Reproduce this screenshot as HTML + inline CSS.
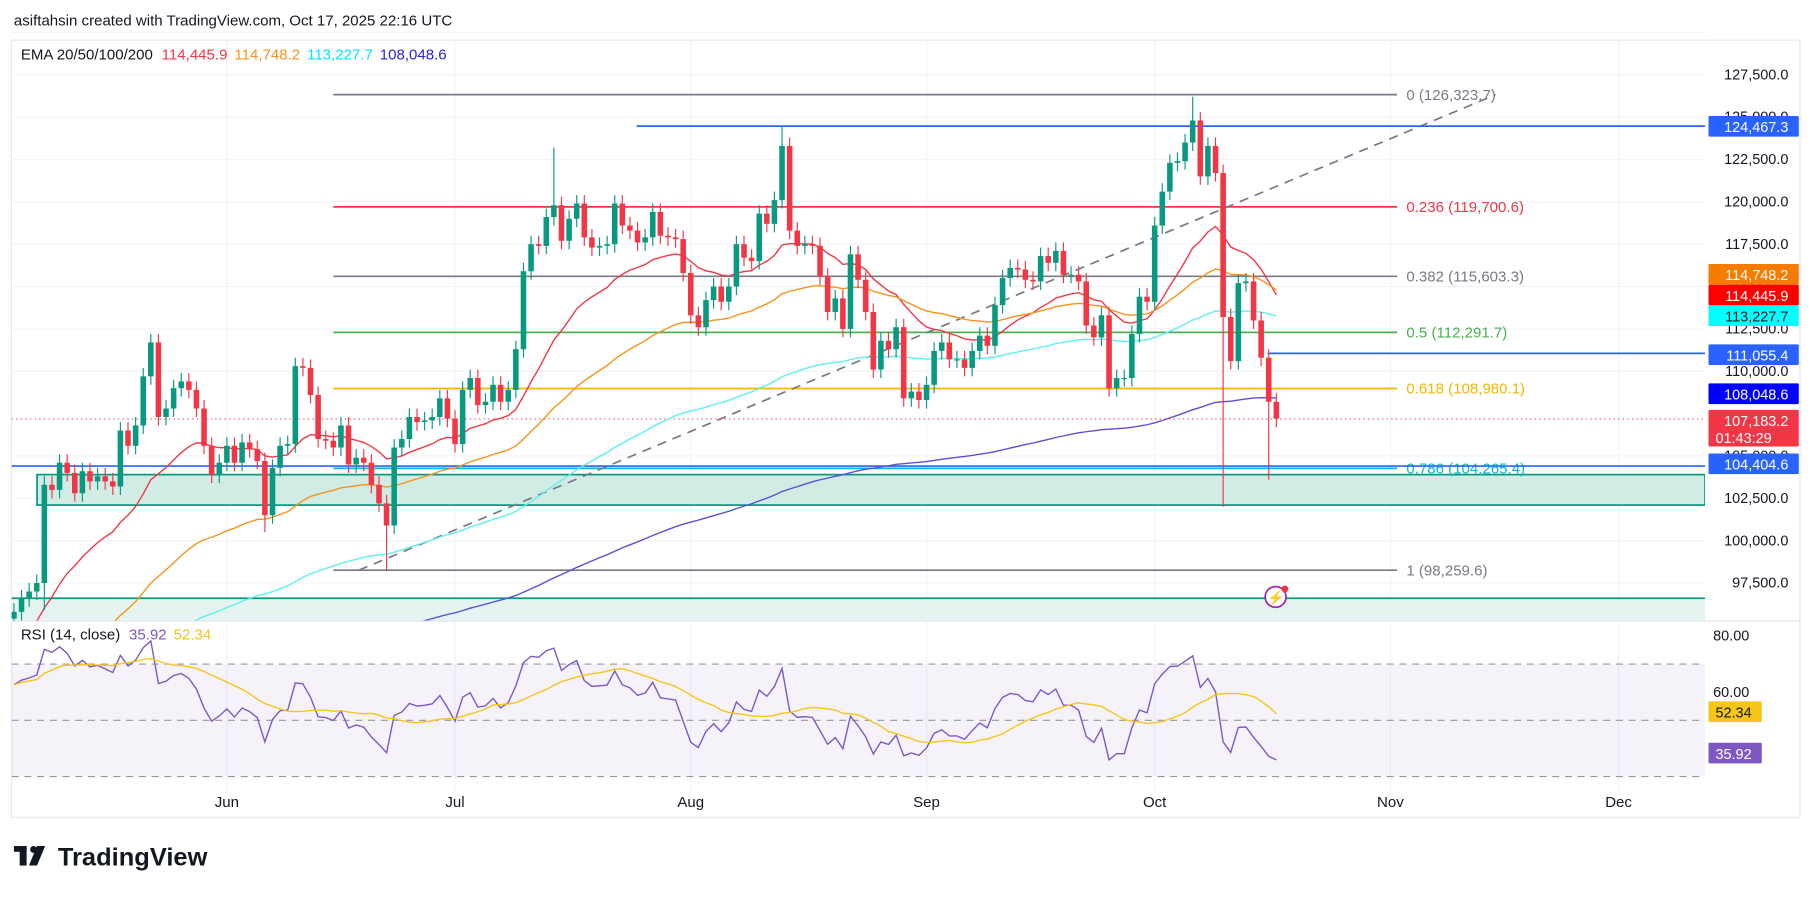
<!DOCTYPE html>
<html><head><meta charset="utf-8"><style>
html,body{margin:0;padding:0;background:#fff;width:1815px;height:900px;overflow:hidden}
svg{display:block;font-family:"Liberation Sans",sans-serif}
</style></head><body>
<svg id="chart" width="1815" height="900" viewBox="0 0 1568 784" preserveAspectRatio="none" xmlns="http://www.w3.org/2000/svg">
<defs>
<clipPath id="mainClip"><rect x="10" y="35" width="1463" height="506"/></clipPath>
<clipPath id="rsiClip"><rect x="10" y="541" width="1463" height="150"/></clipPath>
</defs>
<text x="12" y="22" font-size="13" fill="#131722">asiftahsin created with TradingView.com, Oct 17, 2025 22:16 UTC</text>
<rect x="10" y="35" width="1545" height="677" fill="none" stroke="#e6e8ee"/>
<g id="grid"></g>
<g id="mainPane" clip-path="url(#mainClip)"></g>
<g id="rsiPane" clip-path="url(#rsiClip)"></g>
<line x1="10" y1="541" x2="1555" y2="541" stroke="#e0e3eb"/>
<g id="axis"></g>
<text x="18" y="52" font-size="13"><tspan fill="#131722">EMA 20/50/100/200 </tspan><tspan fill="#f23645" dx="4">114,445.9</tspan><tspan fill="#f7931a" dx="6">114,748.2</tspan><tspan fill="#00e5ff" dx="6">113,227.7</tspan><tspan fill="#2a1fd6" dx="6">108,048.6</tspan></text>
<text x="18" y="557" font-size="13"><tspan fill="#131722">RSI (14, close) </tspan><tspan fill="#7e57c2" dx="4">35.92</tspan><tspan fill="#f5c518" dx="6">52.34</tspan></text>
<g>
<rect x="12" y="737" width="11" height="5" fill="#131722"/><rect x="17" y="737" width="6" height="17" fill="#131722"/><circle cx="29" cy="740" r="3" fill="#131722"/><polygon points="32,737 39,737 32,754 25,754" fill="#131722"/>
<text x="50" y="754" font-size="22" font-weight="bold" fill="#131722">TradingView</text>
</g>
</svg>
<script>
// daily closes (thousands USD), starting May 4 2025
const closes = [95.8,96.6,97.0,97.5,103.3,103,104.6,104,102.8,104.1,103.5,103.8,103.5,103.2,106.5,105.6,106.8,109.7,111.7,107.3,107.8,109,109.4,108.9,107.8,105.6,103.9,104.6,
105.6,104.6,105.8,105.4,104.7,101.5,104.3,105.6,105.7,110.3,110.2,108.6,106,105.9,105.5,106.8,104.5,104.9,104.6,103.3,102.2,100.9,105.5,106,107.3,107,107.1,107.3,108.4,107.2,
105.7,108.9,109.6,108,108.2,109.2,108.2,108.9,111.3,115.9,117.5,117.4,119.1,119.8,117.7,119,119.9,117.9,117.3,117.4,117.5,119.9,118.6,118.3,117.6,117.9,119.4,118,117.9,117.8,115.8,
113.3,112.6,114.2,115,114.1,115,117.5,116.7,116.5,119.3,118.7,120.1,123.3,118.3,117.4,117.5,117.4,115.6,113.5,114.3,112.5,116.9,115.4,113.5,110.1,111.8,111.3,112.6,108.4,108.8,108.3,
109.2,111.2,111.7,110.7,110.7,110.2,111.2,112.1,111.5,113.9,115.5,116.1,116,115.4,115.3,116.8,116.4,117.1,115.7,115.7,115.3,112.7,112,113.3,109,109.6,109.6,112.2,114.4,114.1,
118.6,120.6,122.3,122.4,123.5,124.8,121.5,123.3,121.7,113.2,110.6,115.2,115.3,113,110.8,108.2,107.2];
const extremeIdx = [4,33,49,71,101,155,159,165];
const extremeVal = [95.9,100.5,98.2,123.2,124.5,126.2,102.0,103.6];
const emaPeriods = [20,50,100,200];
const emaSeeds = [94.5,90,89,88];
const emaColors = ['#f23645','#f7931a','#5ff0f0','#5b4fd6'];
const fibLevels = ['0','0.236','0.382','0.5','0.618','0.786','1'];
const fibPrices = [126.3237,119.7006,115.6033,112.2917,108.9801,104.2654,98.2596];
const fibColors = ['#787b86','#f23645','#787b86','#4caf50','#f7b500','#00bcd4','#787b86'];
const priceTicks = [130,127.5,125,122.5,120,117.5,115,112.5,110,105,102.5,100,97.5];
const monthLabels = ['Jun','Jul','Aug','Sep','Oct','Nov','Dec'];
const monthIdx = [28,58,89,120,150,181,211];
const rsiTicks = [80,60,40];

const NS='http://www.w3.org/2000/svg';
const X=i=>196+(i-28)*6.57;
const Y=p=>471-(p-100)*14.76;
const RY=r=>603-(r-60)*2.45;
const fmt=p=>(p*1000).toLocaleString('en-US',{minimumFractionDigits:1,maximumFractionDigits:1});
function mk(parent,tag,attrs){const e=document.createElementNS(NS,tag);for(const k in attrs)e.setAttribute(k,attrs[k]);parent.appendChild(e);return e;}
const grid=document.getElementById('grid'),main=document.getElementById('mainPane'),rsiG=document.getElementById('rsiPane'),axis=document.getElementById('axis');

priceTicks.forEach(p=>{const l=mk(grid,'line',{x1:10,x2:1473,y1:Y(p),y2:Y(p),stroke:'#f0f3fa'});

});
monthIdx.forEach((m,k)=>{const l=mk(grid,'line',{x1:X(m),x2:X(m),y1:35,y2:690,stroke:'#f0f3fa'});


const t=mk(axis,'text',{x:X(m),y:703,'font-size':13,'text-anchor':'middle',fill:'#131722'});t.textContent=monthLabels[k];

});

const z=mk(main,'rect',{x:32,y:Y(103.9),width:1441,height:Y(102.1)-Y(103.9),fill:'#d1ebe5',stroke:'#089981','stroke-width':1.5});


const z2=mk(main,'rect',{x:10,y:Y(96.6),width:1463,height:40,fill:'#e6f4f1'});


const zl=mk(main,'line',{x1:10,x2:1473,y1:Y(96.6),y2:Y(96.6),stroke:'#089981','stroke-width':1.5});



fibPrices.forEach((p,k)=>{const l=mk(main,'line',{x1:288,x2:1207,y1:Y(p),y2:Y(p),stroke:fibColors[k],'stroke-width':1.5});


const t=mk(main,'text',{x:1215,y:Y(p)+4.5,'font-size':13,fill:fibColors[k]});t.textContent=fibLevels[k]+' ('+fmt(p)+')';

});
const tl=mk(main,'line',{x1:310,y1:Y(98.26),x2:1292,y2:Y(126.32),stroke:'#787b86','stroke-width':1.5,'stroke-dasharray':'8 6'});


[[550,124.4673],[1095,111.0554],[10,104.4046]].forEach(a=>{const l=mk(main,'line',{x1:a[0],x2:1473,y1:Y(a[1]),y2:Y(a[1]),stroke:'#2962ff','stroke-width':1.5});

});
const cp=mk(main,'line',{x1:10,x2:1473,y1:Y(107.1832),y2:Y(107.1832),stroke:'#f23645','stroke-dasharray':'1 3'});



emaPeriods.forEach((n,k)=>{let e=emaSeeds[k];const a=2/(n+1);const pts=[];
closes.forEach((c,i)=>{e=e+a*(c-e);pts.push(X(i).toFixed(1)+','+Y(e).toFixed(1));});
const pl=mk(main,'polyline',{points:pts.join(' '),fill:'none',stroke:emaColors[k],'stroke-width':1.2});

});

closes.forEach((c,i)=>{const o=i?closes[i-1]:95.4;const up=c>=o;const col=up?'#089981':'#f23645';
let hi=Math.max(o,c)+0.5,lo=Math.min(o,c)-0.5;const ei=extremeIdx.indexOf(i);
if(ei>=0){if(extremeVal[ei]>hi)hi=extremeVal[ei];else lo=extremeVal[ei];}
const g=mk(main,'g',{});


mk(g,'line',{x1:X(i),x2:X(i),y1:Y(hi),y2:Y(lo),stroke:col,'stroke-width':1});
mk(g,'rect',{x:X(i)-2.4,y:Y(Math.max(o,c)),width:4.8,height:Math.max(1,Math.abs(Y(o)-Y(c))),fill:col});});

const ic=mk(main,'circle',{cx:1102,cy:520,r:9,fill:'#fff',stroke:'#9c27b0','stroke-width':1.5});


mk(main,'text',{x:1102,y:525,'font-size':12,'text-anchor':'middle',fill:'#9c27b0'}).textContent='⚡';
mk(main,'circle',{cx:1110,cy:513,r:3,fill:'#f23645'});

const band=mk(rsiG,'rect',{x:10,y:RY(70),width:1463,height:RY(30)-RY(70),fill:'#7e57c2','fill-opacity':0.08});


[70,50,30].forEach(r=>{const l=mk(rsiG,'line',{x1:10,x2:1473,y1:RY(r),y2:RY(r),stroke:'#9598a1','stroke-dasharray':'6 5'});

});
let ag=0.9,al=0.55;const rsi=[];
closes.forEach((c,i)=>{const d=i?c-closes[i-1]:0.3;ag=(ag*13+Math.max(d,0))/14;al=(al*13+Math.max(-d,0))/14;rsi.push(100-100/(1+ag/al));});
const rp=mk(rsiG,'polyline',{points:rsi.map((r,i)=>X(i).toFixed(1)+','+RY(r).toFixed(1)).join(' '),fill:'none',stroke:'#7e57c2','stroke-width':1.2});


const ma=[];rsi.forEach((r,i)=>{const s=rsi.slice(Math.max(0,i-13),i+1);ma.push(s.reduce((a,b)=>a+b,0)/s.length);});
const mp=mk(rsiG,'polyline',{points:ma.map((r,i)=>X(i).toFixed(1)+','+RY(r).toFixed(1)).join(' '),fill:'none',stroke:'#f5c518','stroke-width':1.2});



priceTicks.forEach(p=>{const y=Y(p);if(y<32)return;const t=mk(axis,'text',{x:1545,y:y+4,'font-size':12.5,'text-anchor':'end',fill:'#131722'});t.textContent=fmt(p);

});
rsiTicks.forEach(r=>{const t=mk(axis,'text',{x:1480,y:RY(r)+4,'font-size':12.5,fill:'#131722'});t.textContent=r.toFixed(2);

});
const badges=[[124.4673,'#2962ff','#fff'],[114.7482,'#f57c00','#fff'],[114.4459,'#ff0000','#fff'],[113.2277,'#00ffff','#131722'],[111.0554,'#2962ff','#fff'],[108.0486,'#0000ff','#fff'],[104.4046,'#2962ff','#fff']];
const bY=[110,239,257,275,309,343,404];
badges.forEach((b,k)=>{const g=mk(axis,'g',{});


mk(g,'rect',{x:1476,y:bY[k]-9,width:78,height:18,fill:b[1],rx:1});
mk(g,'text',{x:1545,y:bY[k]+5,'font-size':12.5,'text-anchor':'end',fill:b[2]}).textContent=fmt(b[0]);});
const cg=mk(axis,'g',{});


mk(cg,'rect',{x:1476,y:357,width:78,height:32,fill:'#f23645',rx:1});
mk(cg,'text',{x:1545,y:371,'font-size':12.5,'text-anchor':'end',fill:'#fff'}).textContent='107,183.2';
mk(cg,'text',{x:1482,y:386,'font-size':12.5,fill:'#fff'}).textContent='01:43:29';
[[52.34,'#f5c518','#131722',620],[35.92,'#7e57c2','#fff',656]].forEach(b=>{const g=mk(axis,'g',{});


mk(g,'rect',{x:1476,y:b[3]-9,width:46,height:18,fill:b[1],rx:1});
mk(g,'text',{x:1482,y:b[3]+5,'font-size':12.5,fill:b[2]}).textContent=b[0].toFixed(2);});
</script>
</body></html>
